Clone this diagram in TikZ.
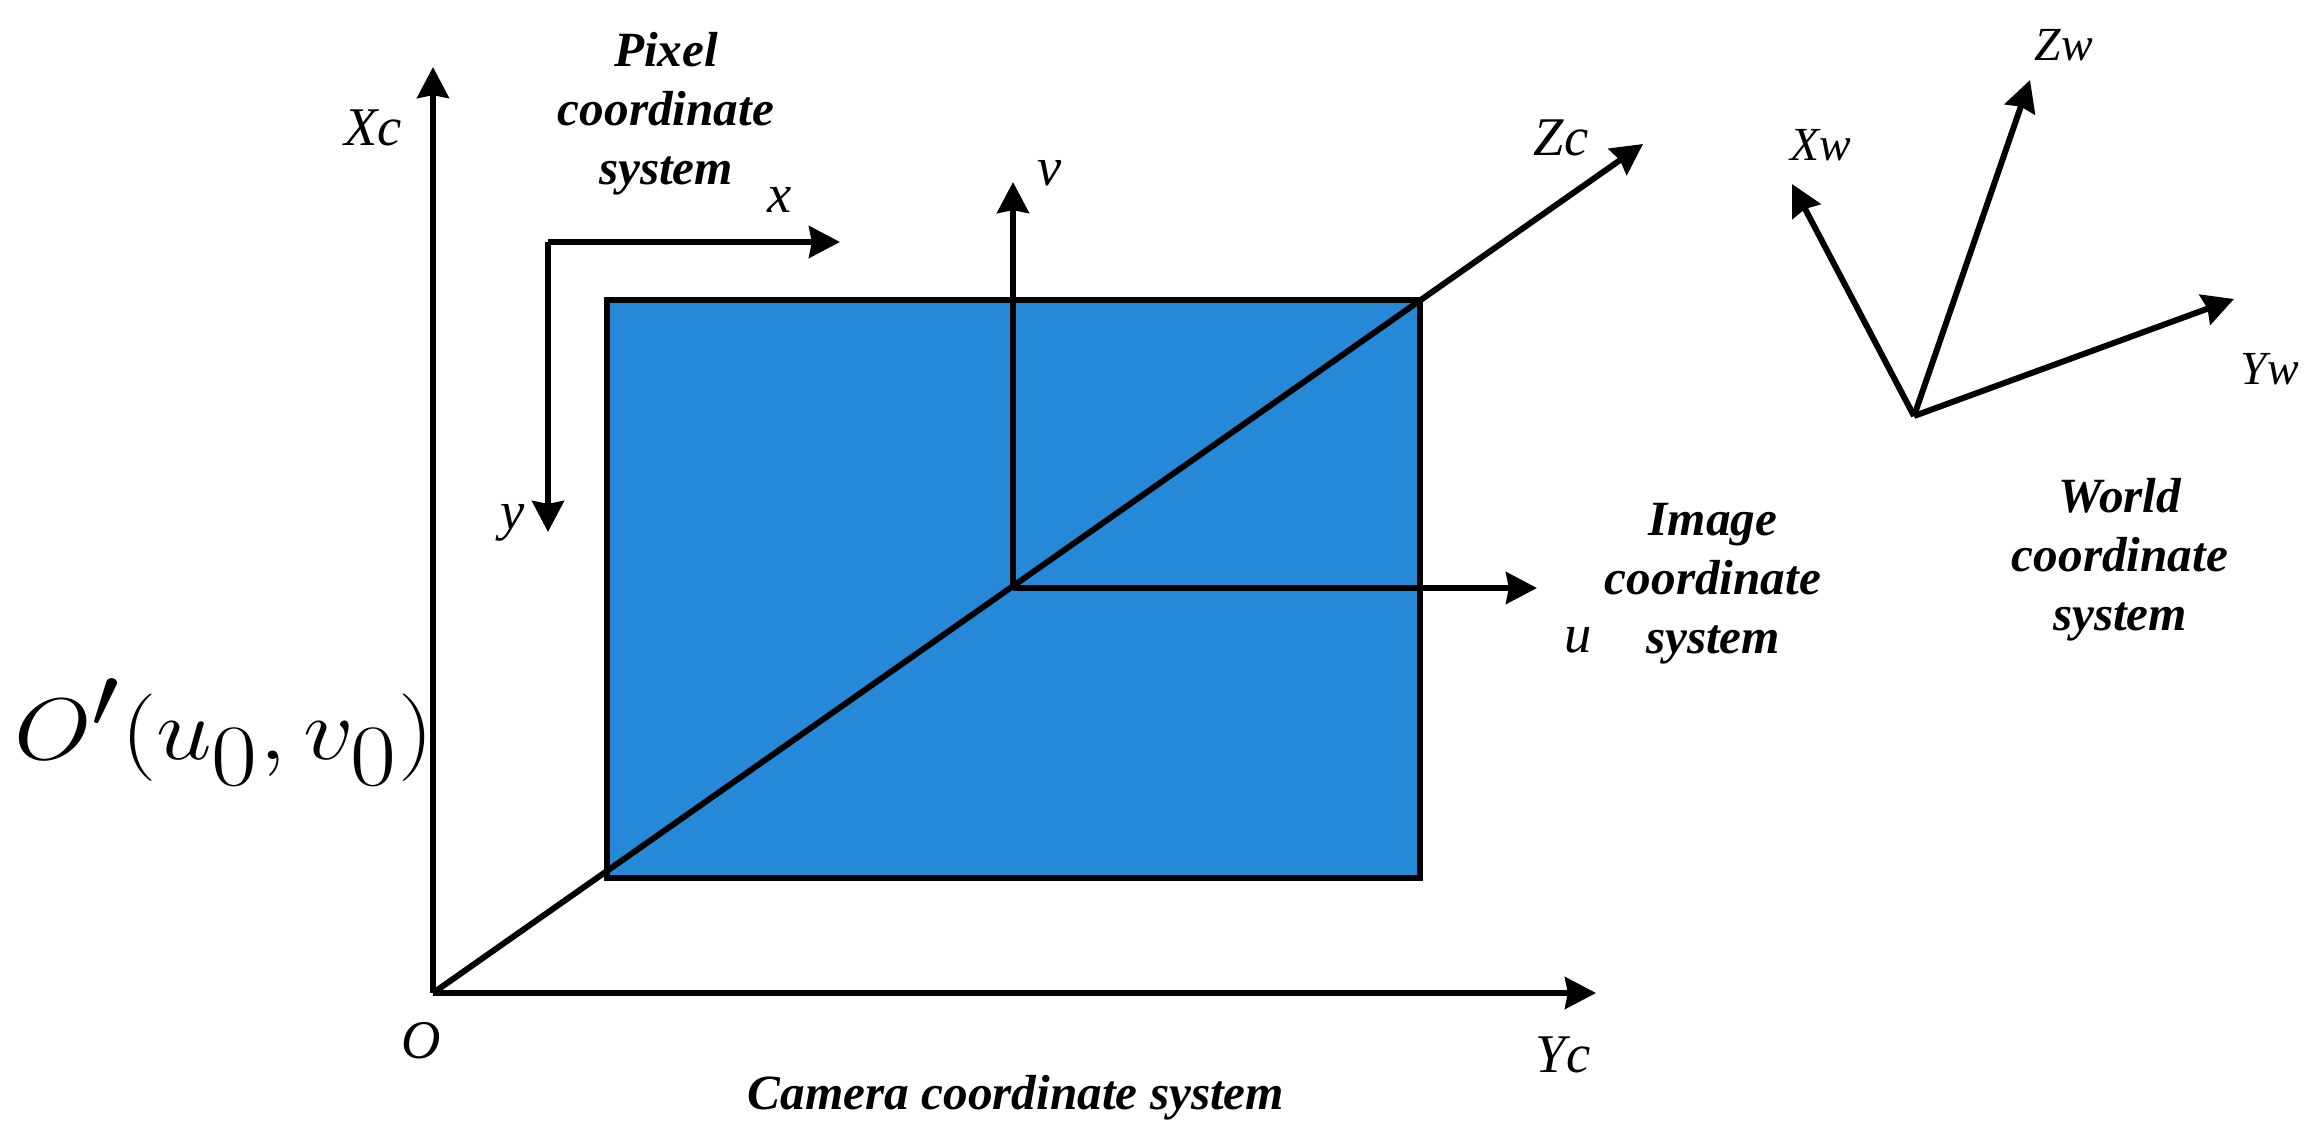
\documentclass[tikz,border=0pt]{standalone}
\usepackage{fontspec}
\setmainfont{Liberation Serif}
\usetikzlibrary{arrows.meta}

\definecolor{planeblue}{RGB}{37,137,216}
\tikzset{
  axis/.style={line width=1.7pt, -{Stealth[length=8.8pt, width=9pt, inset=0.8pt]}},
  axislabel/.style={anchor=base, inner sep=0pt, font=\fontsize{15.5}{18}\selectfont\itshape},
  worldlabel/.style={anchor=base, inner sep=0pt, font=\fontsize{13.5}{16}\selectfont\itshape},
  title/.style={anchor=center, inner sep=0pt, align=center, font=\fontsize{14}{16.8}\selectfont\bfseries\itshape}
}

\begin{document}
\begin{tikzpicture}[x=0.01cm, y=-0.01cm]
      \useasboundingbox (0,0) rectangle (2321,1142);
      % image plane
      \draw[fill=planeblue, line width=1.5pt] (607,300) rectangle (1420,878);
      % camera axes
      \coordinate (O) at (433,993);
      \coordinate (XcEnd) at (433,67);
      \coordinate (YcEnd) at (1596,993);
      \coordinate (ZcEnd) at (1643,144);
      \draw[axis] (O) -- (XcEnd);
      \draw[axis] (O) -- (YcEnd);
      \draw[axis] (O) -- (ZcEnd);
      % pixel axes
      \coordinate (P) at (548,242);
      \coordinate (xEnd) at (840,242);
      \coordinate (yEnd) at (548,532);
      \draw[axis] (P) -- (xEnd);
      \draw[axis] (P) -- (yEnd);
      % image axes
      \coordinate (C) at (1013,588);
      \coordinate (uEnd) at (1537,588);
      \coordinate (vEnd) at (1013,182);
      \draw[axis] (C) -- (uEnd);
      \draw[axis] (C) -- (vEnd);
      % world axes
      \coordinate (W) at (1914,416);
      \coordinate (XwEnd) at (1792,184);
      \coordinate (YwEnd) at (2234,299);
      \coordinate (ZwEnd) at (2030,80);
      \draw[axis] (W) -- (XwEnd);
      \draw[axis] (W) -- (YwEnd);
      \draw[axis] (W) -- (ZwEnd);
      % labels
      \node[axislabel] (Xc) at (373,145) {Xc};
      \node[axislabel] (Yc) at (1563,1072) {Yc};
      \node[axislabel] (Zc) at (1561,155) {Zc};
      \node[axislabel] (Olabel) at (421,1058) {O};
      \node[axislabel] (xlabel) at (780,212) {x};
      \node[axislabel] (ylabel) at (513,529) {y};
      \node[axislabel] (ulabel) at (1578,652) {u};
      \node[axislabel] (vlabel) at (1050,185) {v};
      \node[worldlabel] (Xw) at (1821,160) {Xw};
      \node[worldlabel] (Yw) at (2270,384) {Yw};
      \node[worldlabel] (Zw) at (2064,60) {Zw};
      \node[inner sep=0pt, anchor=base, xscale=1.14, transform shape] (centre) at (224,759) {\fontsize{34.5}{40}\selectfont$O'(u_0,v_0)$};
      \node[title] (pixel) at (666,114) {Pixel\\coordinate\\system};
      \node[title] (image) at (1713,584) {Image\\coordinate\\system};
      \node[title] (world) at (2120,560) {World\\coordinate\\system};
      \node[title, anchor=base] (camera) at (1016,1109) {Camera coordinate system};
\end{tikzpicture}
\end{document}
